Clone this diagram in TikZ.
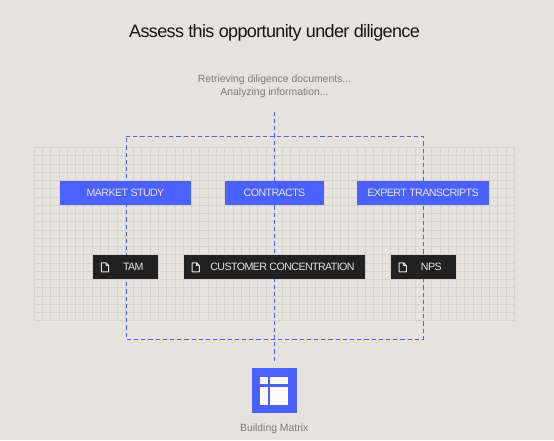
\documentclass[tikz,border=0pt]{standalone}
\usepackage{fontspec}
\setmainfont{Liberation Sans}
\usepackage{xcolor}
\usetikzlibrary{positioning,calc}
\definecolor{paper}{HTML}{E6E3DF}
\definecolor{blue}{HTML}{4A60FF}
\definecolor{ink}{HTML}{151515}
\definecolor{dark}{HTML}{212121}
\definecolor{gridline}{HTML}{D6D2CD}
\definecolor{gray}{HTML}{7C7976}
\newcommand{\Cx}{274.5}
\newcommand{\Lx}{126}
\newcommand{\Rx}{423}
\newfontfamily\capsfont[LetterSpace=-5.5]{Liberation Sans}
\newfontfamily\titlefont[LetterSpace=-3.5]{Liberation Sans}
\tikzset{
  bluebox/.style={fill=blue, text=paper, minimum height=18pt, inner sep=0pt, font=\capsfont\fontsize{8pt}{10pt}\selectfont},
  darkbox/.style={fill=dark, minimum height=18pt, inner sep=0pt},
  darklabel/.style={text=paper, inner sep=0pt, font=\capsfont\fontsize{8pt}{10pt}\selectfont},
  status/.style={text=gray, inner sep=0pt, font=\fontsize{7.8pt}{10pt}\selectfont},
  pane/.style={fill=white!85!paper},
  link/.style={blue, line width=0.6pt, dash pattern=on 3.2pt off 2.2pt},
  docicon/.pic={\draw[paper, line width=0.7pt, line join=round]
    (-3.6,-4.5) -- (1,-4.5) -- (3.6,-1.8) -- (3.6,4.5) -- (-3.6,4.5) -- cycle
    (1,-4.5) -- (1,-1.8) -- (3.6,-1.8);}
}
\begin{document}
\begin{tikzpicture}[x=0.75pt,y=-0.75pt]
\fill[paper] (0,0) rectangle (554,440);
\useasboundingbox (0,0) rectangle (554,440);
% ---- GRID: backing sheet of small square cells
\foreach \i in {0,...,58} { \draw[gridline, line width=0.75pt] (34.3+\i*8.28,147.7) -- (34.3+\i*8.28,321); }
\foreach \j in {0,...,21} { \draw[gridline, line width=0.75pt] (34.3,147.7+\j*8.25) -- (514.5,147.7+\j*8.25); }
% ---- TEXT above the bracket
\node[text=ink, inner sep=0pt, font=\titlefont\fontsize{13.5pt}{16pt}\selectfont] (title) at (\Cx,33) {Assess this opportunity under diligence};
\node[status] (retrieving) at (\Cx,79.5) {Retrieving diligence documents...};
\node[status] (analyzing) at (\Cx,93) {Analyzing information...};
% ---- CONNECTOR: stem, dashed bracket, stem
\coordinate (stemtop) at (\Cx,111.7);
\coordinate (stembot) at (\Cx,361.7);
\coordinate (boxtl) at (\Lx,136);
\coordinate (boxtr) at (\Rx,136);
\coordinate (boxbr) at (\Rx,339);
\coordinate (boxbl) at (\Lx,339);
\draw[link] (stemtop) -- (stembot);
\draw[link] (boxtl) -- (boxtr) -- (boxbr) -- (boxbl) -- cycle;
% ---- TIER A: source documents
\node[bluebox, minimum width=98.7pt] (market) at (125.5,193) {MARKET STUDY};
\node[bluebox, minimum width=74.2pt] (contracts) at (\Cx,193) {CONTRACTS};
\node[bluebox, minimum width=98.7pt] (expert) at (\Rx,193) {EXPERT TRANSCRIPTS};
% ---- TIER B: extracted items, file glyph left of the label
\node[darkbox, minimum width=48.8pt] (tam) at (125.5,267.3) {};
\node[darkbox, minimum width=136pt] (customer) at (274.3,267.3) {};
\node[darkbox, minimum width=49pt] (nps) at (423.3,267.3) {};
\pic at (105,267.3) {docicon};
\pic at (195.7,267.3) {docicon};
\pic at (402.7,267.3) {docicon};
\node[darklabel] (tamlabel) at (133.3,267.3) {TAM};
\node[darklabel] (customerlabel) at (282.5,267.3) {CUSTOMER CONCENTRATION};
\node[darklabel] (npslabel) at (431.3,267.3) {NPS};
% ---- OUTPUT: matrix tile
\node[fill=blue, minimum size=33.75pt, inner sep=0pt] (matrix) at (274.2,390.8) {};
\fill[pane] (260,377.3) rectangle (267.7,384.3);
\fill[pane] (270,377.3) rectangle (288.3,384.3);
\fill[pane] (260,386.7) rectangle (267.7,404.7);
\fill[pane] (270,386.7) rectangle (288.3,404.7);
\node[status, below=7.5pt of matrix] (building) {Building Matrix};
\end{tikzpicture}
\end{document}
